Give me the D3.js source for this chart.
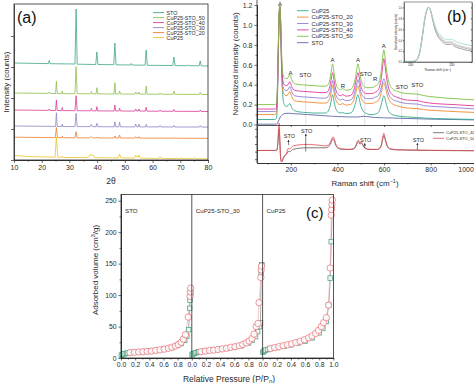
<!DOCTYPE html>
<html><head><meta charset="utf-8">
<script src="https://cdn.jsdelivr.net/npm/d3@7"></script>
<style>body{margin:0;background:#fff}svg{display:block}</style>
</head><body>
<svg width="474" height="383"></svg>
<script>
const FONT = '"Liberation Sans", Arial, sans-serif';
// ================= DATA =================
// (a) XRD patterns [2theta, stacked intensity]
const xrdNames = ["STO","CuP25-STO_50","CuP25-STO_40","CuP25-STO_30","CuP25-STO_20","CuP25"];
const xrdColors = ["#3fa58a","#8fbe4c","#dc3a95","#8c84c8","#ec7e2e","#ecc22a"];
const xrdSTO = [[10,97],[20,96.5],[22.4,96.4],[22.7,99.5],[23,96.3],[32,96],[32.4,151],[32.8,95.8],[39.5,95.5],[39.9,108],[40.3,95.5],[46,95.3],[46.4,117],[46.8,95.2],[52,95],[52.3,96.5],[52.6,95],[57.3,94.8],[57.7,110],[58.1,94.7],[67.3,94.5],[67.7,103],[68.1,94.4],[72.2,94.3],[72.5,95],[72.8,94.3],[76.8,94.2],[77.2,99],[77.6,94.1],[80,94]];
const xrd50 = [[10,67],[22.4,66.6],[22.7,68],[23,66.6],[25,66.5],[25.3,78.7],[25.6,66.5],[27.2,66.4],[27.4,69],[27.6,66.4],[32,66.3],[32.4,93.3],[32.8,66.3],[37.6,66.2],[37.9,68.5],[38.2,66.2],[39.6,66.1],[39.9,72.3],[40.2,66.1],[46.1,66],[46.4,77.3],[46.7,66],[47.8,66],[48.1,69],[48.4,66],[53.6,65.9],[53.9,68],[54.3,66],[54.8,66],[55.1,68],[55.4,65.9],[57.4,65.9],[57.7,74],[58,65.8],[62.4,65.8],[62.7,67],[63,65.8],[67.4,65.7],[67.7,69],[68,65.7],[76.9,65.6],[77.2,67.7],[77.5,65.6],[80,65.5]];
const xrd40 = [[10,50],[22.4,49.6],[22.7,51],[23,49.6],[25,49.5],[25.3,60],[25.6,49.5],[27.2,49.4],[27.4,52.5],[27.6,49.4],[32,49.3],[32.4,64.3],[32.8,49.3],[37.6,49.2],[37.9,51.5],[38.2,49.2],[39.6,49.1],[39.9,53.3],[40.2,49.1],[46.1,49],[46.4,55],[46.7,49],[47.8,49],[48.1,51.7],[48.4,49],[53.6,48.9],[53.9,51],[54.3,49],[54.8,49],[55.1,51],[55.4,48.9],[57.4,48.9],[57.7,52.7],[58,48.8],[62.4,48.8],[62.7,50],[63,48.8],[67.4,48.7],[67.7,50.5],[68,48.7],[76.9,48.6],[77.2,50],[77.5,48.6],[80,48.5]];
const xrd30 = [[10,34],[25,33.6],[25.3,47.3],[25.6,33.6],[27.2,33.5],[27.4,36],[27.6,33.5],[32,33.4],[32.4,46.7],[32.8,33.4],[37.5,33.4],[37.9,35.7],[38.3,33.4],[39.6,33.3],[39.9,36.7],[40.2,33.3],[46.1,33.2],[46.4,38.3],[46.7,33.2],[47.8,33.2],[48.1,38],[48.4,33.2],[53.6,33.1],[53.9,36],[54.3,33.2],[54.8,33.2],[55.1,36],[55.4,33.1],[57.4,33.1],[57.7,35.7],[58,33.1],[62.4,33.1],[62.7,34.5],[63,33.1],[67.4,33],[67.7,34.5],[68,33],[76.9,33],[77.2,34.3],[77.5,33],[80,33]];
const xrd20 = [[10,22.8],[24.9,22.4],[25.3,32.5],[25.7,22.4],[27.2,22.3],[27.4,24],[27.7,22.3],[32,22.2],[32.4,28.3],[32.8,22.2],[37.4,22.2],[37.9,23.5],[38.4,22.2],[39.6,22.1],[39.9,23],[40.2,22.1],[46.1,22],[46.4,24],[46.7,22],[47.8,22],[48.1,25],[48.4,22],[53.6,21.9],[53.9,23.3],[54.3,22],[54.8,22],[55.1,23.3],[55.4,21.9],[62.4,21.8],[62.7,22.5],[63,21.8],[67.4,21.8],[67.7,22.3],[68,21.8],[74.7,21.7],[75,22],[75.3,21.7],[80,21.7]];
const xrdCuP25 = [[10,4.5],[15,3.5],[24.8,2.8],[25.3,23],[25.8,2.8],[27.1,2.6],[27.4,4],[27.7,2.6],[36.5,2.4],[36.9,4],[37.3,3.8],[37.8,6],[38.3,4.8],[38.6,5],[39,2.4],[47.6,2],[48.1,6],[48.6,2],[53.5,1.9],[53.9,5],[54.4,3],[54.8,3],[55.1,5],[55.5,1.9],[62.3,1.6],[62.7,3.3],[63.1,1.6],[68.5,1.4],[68.8,2.4],[69.1,1.4],[70,1.4],[70.3,2.4],[70.6,1.4],[74.5,1.3],[75,2.5],[75.5,1.3],[80,1]];
const xrdTicks = [10,20,30,40,50,60,70,80];

// (b) Raman spectra
const ramanNames = ["CuP25","CuP25-STO_20","CuP25-STO_30","CuP25-STO_40","CuP25-STO_50","STO"];
const ramanColors = ["#35a890","#f0892d","#8b80d2","#e0359a","#7cbf42","#5b68a8"];
const ramanX = [55,130,138,142,146,150,153,156,160,165,172,180,188,196,204,215,240,270,300,330,350,
 360,370,375,379,383,390,400, 412,423,435, 455,468,478,484,488,492,500,510, 525,540, 555,562,570,
 580,590,595,599,603,610,620,635, 660,700,743,770,820,900,1000,1050];
const ramanCuP25 = [0.05,0.05,0.06,0.20,0.65,1.08,1.17,1.00,0.60,0.30,0.20,0.18,0.19,0.21,0.17,0.14,0.125,0.12,0.115,0.115,0.115,
 0.135,0.20,0.26,0.30,0.26,0.18,0.13, 0.115,0.12,0.11, 0.115,0.145,0.22,0.28,0.30,0.27,0.19,0.135, 0.11,0.10, 0.10,0.105,0.11,
 0.14,0.22,0.27,0.29,0.27,0.20,0.13,0.10, 0.085,0.075,0.07,0.065,0.06,0.055,0.05,0.045];
const raman20 = [0.10,0.10,0.11,0.25,0.68,1.09,1.18,1.04,0.63,0.35,0.30,0.29,0.30,0.33,0.28,0.24,0.23,0.225,0.22,0.215,0.215,
 0.23,0.29,0.35,0.39,0.35,0.27,0.215, 0.20,0.21,0.195, 0.20,0.235,0.31,0.37,0.39,0.36,0.28,0.23, 0.21,0.21, 0.215,0.225,0.23,
 0.26,0.34,0.40,0.42,0.40,0.33,0.25,0.21, 0.185,0.165,0.16,0.15,0.14,0.13,0.12,0.115];
const raman30 = [0.13,0.13,0.14,0.28,0.70,1.10,1.19,1.05,0.67,0.40,0.35,0.34,0.35,0.38,0.33,0.29,0.28,0.275,0.27,0.265,0.265,
 0.28,0.34,0.40,0.44,0.40,0.32,0.265, 0.245,0.255,0.24, 0.245,0.28,0.36,0.42,0.45,0.42,0.33,0.28, 0.26,0.26, 0.265,0.275,0.28,
 0.31,0.39,0.44,0.46,0.44,0.38,0.30,0.255, 0.23,0.21,0.205,0.19,0.18,0.17,0.155,0.15];
const raman40 = [0.155,0.155,0.165,0.30,0.72,1.10,1.19,1.06,0.70,0.45,0.40,0.39,0.40,0.43,0.38,0.345,0.335,0.33,0.325,0.32,0.32,
 0.335,0.41,0.48,0.52,0.48,0.38,0.31, 0.29,0.30,0.285, 0.29,0.33,0.42,0.49,0.52,0.49,0.39,0.33, 0.31,0.31, 0.315,0.325,0.335,
 0.375,0.50,0.61,0.66,0.61,0.48,0.36,0.30, 0.27,0.245,0.24,0.225,0.21,0.20,0.185,0.18];
const raman50 = [0.20,0.20,0.21,0.35,0.75,1.12,1.20,1.08,0.75,0.52,0.47,0.46,0.47,0.50,0.45,0.41,0.40,0.395,0.39,0.385,0.385,
 0.40,0.48,0.56,0.61,0.56,0.45,0.37, 0.35,0.36,0.345, 0.35,0.39,0.48,0.57,0.61,0.57,0.46,0.39, 0.37,0.37, 0.375,0.385,0.395,
 0.44,0.58,0.70,0.75,0.70,0.56,0.43,0.36, 0.33,0.31,0.305,0.29,0.275,0.26,0.245,0.24];
const ramanSTO = [0.003,0.003,0.004,0.01,0.03,0.05,0.065,0.08,0.09,0.10,0.108,0.112,0.113,0.112,0.11,0.108,0.105,0.10,0.095,0.09,0.087,
 0.085,0.084,0.083,0.083,0.082,0.081,0.08, 0.079,0.078,0.077, 0.076,0.075,0.075,0.075,0.076,0.077,0.079,0.082, 0.08,0.076, 0.072,0.071,0.07,
 0.069,0.068,0.068,0.067,0.067,0.066,0.066,0.065, 0.063,0.06,0.058,0.056,0.053,0.05,0.046,0.045];
const ramanYTicks = [0,0.2,0.4,0.6,0.8,1.0,1.2];
const ramanXTicks = [200,400,600,800,1000];
// (b) difference spectra (lower strip)
const diffNames = ["CuP25-STO_40","CuP25-STO_50"];
const diffColors = ["#5a5a5a","#e8474f"];
const diffX = [55,130,140,145,148,150,152,155,158,162,168,175,182,188,195,210,240,270,300,330,350,360,370,377,381,386,393,405,420,450,470,480,486,490,496,503,510,520,540,570,585,592,599,606,615,630,660,743,800,900,1050];
const diff40 = [-0.17,-0.17,-0.16,0.05,0.35,0.4,0.2,-0.25,-0.45,-0.46,-0.38,-0.3,-0.27,-0.2,-0.2,-0.14,-0.11,-0.1,-0.1,-0.1,-0.1,-0.08,0.0,0.1,0.14,0.09,-0.04,-0.12,-0.14,-0.145,-0.13,-0.05,0.04,0.06,0.0,0.02,-0.05,-0.12,-0.145,-0.145,-0.09,0.06,0.22,0.08,-0.08,-0.14,-0.155,-0.165,-0.17,-0.175,-0.18];
const diff50 = [-0.17,-0.17,-0.16,0.1,0.45,0.55,0.3,-0.2,-0.45,-0.47,-0.35,-0.3,-0.24,-0.12,-0.13,-0.05,-0.02,-0.01,-0.02,-0.04,-0.05,-0.03,0.05,0.15,0.19,0.14,0.0,-0.1,-0.13,-0.14,-0.12,-0.02,0.08,0.1,0.03,0.05,-0.03,-0.11,-0.14,-0.14,-0.08,0.1,0.28,0.12,-0.06,-0.13,-0.15,-0.16,-0.165,-0.17,-0.18];
// (b) inset
const insetX = [85,105,112,118,124,130,135,140,144,148,152,158,165,172,180,188,195,200,205,212,225,240,250];
const insetA = [0.01,0.01,0.02,0.06,0.2,0.48,0.75,0.93,1.0,0.97,0.86,0.66,0.5,0.42,0.36,0.32,0.32,0.33,0.3,0.27,0.24,0.21,0.2];
const insetB = [0.01,0.01,0.02,0.06,0.21,0.5,0.77,0.94,1.0,0.97,0.87,0.68,0.53,0.45,0.39,0.35,0.35,0.36,0.33,0.3,0.27,0.24,0.23];
const insetC = [0.01,0.01,0.02,0.07,0.22,0.51,0.78,0.95,1.0,0.98,0.88,0.7,0.55,0.47,0.41,0.37,0.37,0.38,0.35,0.32,0.29,0.26,0.25];
const insetD = [0.01,0.01,0.02,0.07,0.22,0.52,0.79,0.95,1.0,0.98,0.89,0.72,0.58,0.5,0.45,0.41,0.41,0.42,0.4,0.37,0.34,0.31,0.3];
const insetColors = ["#8e8e8e","#a8a8a8","#c4c4c4","#9fd6cf"];
// (c) N2 isotherms [P/P0, volume]
const isoNames = ["STO","CuP25-STO_30","CuP25"];
const stoAds = [[0.005,4.5],[0.02,5.5],[0.04,6.5],[0.06,7],[0.08,7.5],[0.1,8],[0.2,9],[0.3,10],[0.4,11],[0.5,12.5],[0.6,14],[0.7,16.5],[0.8,20],[0.85,23],[0.9,28],[0.93,35],[0.955,45],[0.97,79],[0.975,92],[0.985,104]];
const stoDes = [[0.13,8.5],[0.19,9],[0.25,9.5],[0.31,10],[0.37,10.5],[0.43,11],[0.49,12],[0.55,13],[0.61,14],[0.67,15.5],[0.72,17],[0.77,19],[0.81,21.5],[0.85,25],[0.88,30],[0.91,37],[0.95,65],[0.975,98],[0.98,105],[0.985,111]];
const cp30Ads = [[0.005,5],[0.02,6.5],[0.04,7.5],[0.06,8.5],[0.08,9],[0.1,10],[0.2,11.5],[0.3,12.5],[0.4,14],[0.5,15.5],[0.6,17],[0.7,19.5],[0.8,24],[0.85,28],[0.9,34],[0.93,42],[0.955,50],[0.97,56],[0.98,135],[0.99,148]];
const cp30Des = [[0.13,10],[0.19,11],[0.25,12],[0.31,12.5],[0.37,13.5],[0.43,14.5],[0.49,15.5],[0.55,17],[0.61,18],[0.67,19.5],[0.72,21.5],[0.77,24],[0.81,27],[0.85,31],[0.88,38],[0.91,50],[0.935,55],[0.95,88],[0.975,128],[0.98,140],[0.985,146]];
const cp25Ads = [[0.005,9],[0.02,11],[0.04,12.5],[0.07,13.5],[0.1,14.5],[0.2,16.5],[0.3,18.5],[0.4,21],[0.5,24],[0.6,27],[0.7,32],[0.8,40],[0.85,47],[0.9,58],[0.935,84],[0.955,127],[0.97,185],[0.985,240]];
const cp25Des = [[0.11,15],[0.17,16.5],[0.23,18],[0.29,19.5],[0.35,21],[0.41,22.5],[0.47,24.5],[0.53,26.5],[0.59,29],[0.65,32],[0.7,35],[0.75,39],[0.79,44],[0.83,50],[0.86,56],[0.9,64],[0.93,84],[0.955,143],[0.97,227],[0.975,236],[0.98,244],[0.985,251]];
const isoYTicks = [0,50,100,150,200,250];

// ================= DRAW =================
const svg = d3.select("svg").attr("font-family", FONT);
const INK = "#2a2a2a";
function axStyle(g, fs){
  g.select(".domain").attr("stroke",INK).attr("stroke-width",0.8);
  g.selectAll(".tick line").attr("stroke",INK).attr("stroke-width",0.7);
  g.selectAll(".tick text").attr("font-size",fs||7).attr("font-family",FONT).attr("fill",INK);
}
const defs = svg.append("defs");
function clip(id,x,y,w,h){defs.append("clipPath").attr("id",id).append("rect").attr("x",x).attr("y",y).attr("width",w).attr("height",h);}

// ---------- (a) ----------
const xA = d3.scaleLinear().domain([10,80]).range([14,208]);
const yA = d3.scaleLinear().domain([0,156]).range([160,4]);
clip("cA",14,4,194,156);
const gA = svg.append("g");
const xrdData = [xrdSTO,xrd50,xrd40,xrd30,xrd20,xrdCuP25];
const lineA = d3.line().x(d=>xA(d[0])).y(d=>yA(d[1]));
for (let k = xrdData.length-1; k >= 0; k--) {
  gA.append("path").attr("d",lineA(xrdData[k])).attr("fill","none").attr("stroke",xrdColors[k]).attr("stroke-width",0.8).attr("clip-path","url(#cA)");
}
gA.append("rect").attr("x",14).attr("y",4).attr("width",194).attr("height",156).attr("fill","none").attr("stroke",INK).attr("stroke-width",0.8);
axStyle(gA.append("g").attr("transform","translate(0,160)").call(d3.axisBottom(xA).tickValues(xrdTicks).tickSize(3).tickSizeOuter(0).tickPadding(2).tickFormat(d3.format("d"))));
axStyle(gA.append("g").attr("transform","translate(0,160)").call(d3.axisBottom(xA).tickValues(d3.range(15,80,10)).tickSize(1.6).tickSizeOuter(0).tickFormat("")));
axStyle(gA.append("g").attr("transform","translate(14,0)").call(d3.axisLeft(yA).tickValues([0,31,62,93,124]).tickSize(3).tickSizeOuter(0).tickFormat("")));
gA.append("text").attr("x",111).attr("y",184).attr("text-anchor","middle").attr("font-size",8.5).attr("fill",INK).text("2θ");
gA.append("text").attr("transform","translate(8.5,82) rotate(-90)").attr("text-anchor","middle").attr("font-size",8).attr("fill",INK).text("Intensity (counts)");
gA.append("text").attr("x",17).attr("y",22.5).attr("font-size",16).attr("fill","#111").text("(a)");
xrdNames.forEach((n,i)=>{
  const y = 12.6+5*i;
  gA.append("line").attr("x1",153).attr("x2",164).attr("y1",y).attr("y2",y).attr("stroke",xrdColors[i]).attr("stroke-width",0.9);
  gA.append("text").attr("x",166.5).attr("y",y+1.9).attr("font-size",5.4).attr("fill",INK).text(n);
});

// ---------- (b) ----------
const xB = d3.scaleLinear().domain([55,1050]).range([257,489]);
const yU = d3.scaleLinear().domain([0,1.2]).range([124.5,5]);
const yL = d3.scaleLinear().domain([-0.5,0.5]).range([163,125]);
clip("cBU",257,-2,217,127);
clip("cBL",257,118,217,45);
const gB = svg.append("g");
const ramanData = [ramanCuP25,raman20,raman30,raman40,raman50,ramanSTO];
const lineU = d3.line().x(d=>xB(d[0])).y(d=>yU(d[1])).curve(d3.curveMonotoneX);
// STO dashed markers [raman, top intensity]
const stoMarks = [[264,0.47],[517,0.47],[676,0.34],[743,0.34]];
stoMarks.forEach(m=>{
  gB.append("line").attr("x1",xB(m[0])).attr("x2",xB(m[0])).attr("y1",yU(m[1])).attr("y2",yU(0)).attr("stroke","#999").attr("stroke-width",0.6).attr("stroke-dasharray","1,1");
});
[5,0,1,2,3,4].forEach(k=>{
  const pts = ramanX.map((x,i)=>[x,ramanData[k][i]]);
  gB.append("path").attr("d",lineU(pts)).attr("fill","none").attr("stroke",ramanColors[k]).attr("stroke-width",0.9).attr("clip-path","url(#cBU)");
});
const lineL = d3.line().x(d=>xB(d[0])).y(d=>yL(d[1])).curve(d3.curveMonotoneX);
[diff40,diff50].forEach((arr,k)=>{
  const pts = diffX.map((x,i)=>[x,arr[i]]);
  gB.append("path").attr("d",lineL(pts)).attr("fill","none").attr("stroke",diffColors[k]).attr("stroke-width",0.8).attr("clip-path","url(#cBL)");
});
// axes
axStyle(gB.append("g").attr("transform","translate(257,0)").call(d3.axisLeft(yU).tickValues(ramanYTicks).tickSize(2.5).tickSizeOuter(0).tickPadding(2).tickFormat(d3.format(".1f"))));
axStyle(gB.append("g").attr("transform","translate(257,0)").call(d3.axisLeft(yU).tickValues([0.1,0.3,0.5,0.7,0.9,1.1]).tickSize(1.5).tickSizeOuter(0).tickFormat("")));
gB.append("line").attr("x1",257).attr("x2",257).attr("y1",0).attr("y2",163).attr("stroke",INK).attr("stroke-width",0.8);
axStyle(gB.append("g").attr("transform","translate(257,0)").call(d3.axisLeft(yL).tickValues([-0.4,-0.2,0,0.2,0.4]).tickSize(2).tickSizeOuter(0).tickFormat("")));
axStyle(gB.append("g").attr("transform","translate(0,125)").call(d3.axisBottom(xB).tickValues(ramanXTicks).tickSize(2).tickSizeOuter(0).tickFormat("")));
const bb = gB.append("g").attr("transform","translate(0,163)").call(d3.axisBottom(xB).tickValues(ramanXTicks).tickSize(2.5).tickSizeOuter(0).tickPadding(2).tickFormat(d3.format("d")));
axStyle(bb);
bb.selectAll(".tick").filter(d=>d===1000).select("text").attr("text-anchor","end").attr("x",-4);
axStyle(gB.append("g").attr("transform","translate(0,163)").call(d3.axisBottom(xB).tickValues([100,300,500,700,900]).tickSize(1.5).tickSizeOuter(0).tickFormat("")));
const xl = gB.append("text").attr("x",365).attr("y",186).attr("text-anchor","middle").attr("font-size",8).attr("fill",INK);
xl.append("tspan").text("Raman shift (cm");
xl.append("tspan").attr("dy",-3).attr("font-size",5.5).text("−1");
xl.append("tspan").attr("dy",3).text(")");
gB.append("text").attr("transform","translate(238,64) rotate(-90)").attr("text-anchor","middle").attr("font-size",8).attr("fill",INK).text("Normalized intensity (counts)");
// peak annotations [raman, intensity, label]
const annot = [[154,1.187,"A"],[199,0.502,"A"],[262,0.482,"STO"],[379,0.628,"A"],[424,0.362,"R"],[488,0.628,"A"],[522,0.49,"STO"],[562,0.44,"R"],[599,0.77,"A"],[676,0.36,"STO"],[743,0.375,"STO"]];
annot.forEach(a=>{
  gB.append("text").attr("x",xB(a[0])).attr("y",yU(a[1])).attr("text-anchor","middle").attr("font-size",6).attr("fill",INK).text(a[2]);
});
// lower strip arrows [raman, from, to, label level]
defs.append("marker").attr("id","arr").attr("viewBox","0 0 6 6").attr("refX",5).attr("refY",3).attr("markerWidth",4).attr("markerHeight",4).attr("orient","auto")
  .append("path").attr("d","M0,0L6,3L0,6z").attr("fill",INK);
const arrows = [[190,-0.03,0.1,0.16],[264,-0.2,0.26,0.29],[517,-0.113,0.013,0.065],[743,-0.158,0.018,0.065]];
arrows.forEach(a=>{
  gB.append("line").attr("x1",xB(a[0])).attr("x2",xB(a[0])).attr("y1",yL(a[1])).attr("y2",yL(a[2])).attr("stroke",INK).attr("stroke-width",0.6).attr("marker-end","url(#arr)");
  gB.append("text").attr("x",xB(a[0])+1).attr("y",yL(a[3])).attr("text-anchor","middle").attr("font-size",5.5).attr("fill",INK).text("STO");
});
diffNames.forEach((n,i)=>{
  const y = 132.7+5.6*i;
  gB.append("line").attr("x1",433).attr("x2",444).attr("y1",y).attr("y2",y).attr("stroke",diffColors[i]).attr("stroke-width",0.8);
  gB.append("text").attr("x",446).attr("y",y+1.4).attr("font-size",4).attr("fill",INK).text(n);
});
ramanNames.forEach((n,i)=>{
  const y = 10.7+6.4*i;
  gB.append("line").attr("x1",297).attr("x2",308.5).attr("y1",y).attr("y2",y).attr("stroke",ramanColors[i]).attr("stroke-width",0.9);
  gB.append("text").attr("x",311.5).attr("y",y+2).attr("font-size",5.8).attr("fill",INK).text(n);
});
// inset
const gI = svg.append("g");
gI.append("rect").attr("x",390).attr("y",0).attr("width",84).attr("height",74).attr("fill","#fff");
const xI = d3.scaleLinear().domain([85,250]).range([404,472]);
const yI = d3.scaleLinear().domain([0,1.1]).range([62,2]);
clip("cI",404,2,68,60);
const lineI = d3.line().x(d=>xI(d[0])).y(d=>yI(d[1])).curve(d3.curveMonotoneX);
[insetA,insetB,insetC,insetD].forEach((arr,k)=>{
  gI.append("path").attr("d",lineI(insetX.map((x,i)=>[x,arr[i]]))).attr("fill","none").attr("stroke",insetColors[k]).attr("stroke-width",0.8).attr("clip-path","url(#cI)");
});
gI.append("rect").attr("x",404).attr("y",2).attr("width",68).attr("height",60).attr("fill","none").attr("stroke",INK).attr("stroke-width",0.5);
const ia = gI.append("g").attr("transform","translate(0,62)").call(d3.axisBottom(xI).tickValues([100,200]).tickSize(1.2).tickSizeOuter(0).tickPadding(1));
axStyle(ia,3.2); ia.select(".domain").attr("stroke-width",0.5);
const iy = gI.append("g").attr("transform","translate(404,0)").call(d3.axisLeft(yI).tickValues([0,0.2,0.4,0.6,0.8,1.0]).tickSize(1.2).tickSizeOuter(0).tickPadding(0.8).tickFormat(d3.format(".1f")));
axStyle(iy,2.6); iy.select(".domain").attr("stroke-width",0.5);
const iyr = gI.append("g").attr("transform","translate(472,0)").call(d3.axisRight(yI).tickValues([0,0.2,0.4,0.6,0.8,1.0]).tickSize(-1.2).tickSizeOuter(0).tickFormat(""));
axStyle(iyr); iyr.select(".domain").attr("stroke-width",0.5);
gI.append("text").attr("x",438).attr("y",71).attr("text-anchor","middle").attr("font-size",3.2).attr("fill",INK).text("Raman shift (cm⁻¹)");
gI.append("text").attr("transform","translate(397,32) rotate(-90)").attr("text-anchor","middle").attr("font-size",2.8).attr("fill",INK).text("Normalized intensity (counts)");
svg.append("text").attr("x",447).attr("y",21.5).attr("font-size",16).attr("fill","#111").text("(b)");

// ---------- (c) ----------
const cEdges = [121,191.8,262.6,333.4];
const yC = d3.scaleLinear().domain([0,260]).range([358,194.4]);
const gC = svg.append("g");
const isoSets = [[stoAds,stoDes],[cp30Ads,cp30Des],[cp25Ads,cp25Des]];
isoSets.forEach((set,s)=>{
  const xs = d3.scaleLinear().domain([0,1]).range([cEdges[s],cEdges[s+1]]);
  const ln = d3.line().x(d=>xs(d[0])).y(d=>yC(d[1]));
  gC.append("path").attr("d",ln(set[0])).attr("fill","none").attr("stroke","#777").attr("stroke-width",0.6);
  gC.append("path").attr("d",ln(set[1])).attr("fill","none").attr("stroke","#f2a0a4").attr("stroke-width",0.6);
  gC.selectAll(null).data(set[0]).enter().append("rect")
    .attr("x",d=>xs(d[0])-2.3).attr("y",d=>yC(d[1])-2.3).attr("width",4.6).attr("height",4.6)
    .attr("fill","#eef6f2").attr("stroke","#45a07e").attr("stroke-width",0.7);
  gC.selectAll(null).data(set[1]).enter().append("circle")
    .attr("cx",d=>xs(d[0])).attr("cy",d=>yC(d[1])).attr("r",3.2)
    .attr("fill","#fff").attr("fill-opacity",0.85).attr("stroke","#ea6a72").attr("stroke-width",0.7);
  const tv = s===2 ? [0,0.2,0.4,0.6,0.8,1.0] : [0,0.2,0.4,0.6,0.8];
  axStyle(gC.append("g").attr("transform","translate(0,358)").call(d3.axisBottom(xs).tickValues(tv).tickSize(2.5).tickSizeOuter(0).tickPadding(2).tickFormat(d3.format(".1f"))), 6.8);
  axStyle(gC.append("g").attr("transform","translate(0,358)").call(d3.axisBottom(xs).tickValues([0.1,0.3,0.5,0.7,0.9]).tickSize(1.5).tickSizeOuter(0).tickFormat("")));
  gC.append("text").attr("x",cEdges[s]+4).attr("y",213).attr("font-size",6.2).attr("fill",INK).text(isoNames[s]);
});
gC.append("rect").attr("x",121).attr("y",194.4).attr("width",212.4).attr("height",163.6).attr("fill","none").attr("stroke",INK).attr("stroke-width",0.8);
[1,2].forEach(i=>gC.append("line").attr("x1",cEdges[i]).attr("x2",cEdges[i]).attr("y1",194.4).attr("y2",358).attr("stroke",INK).attr("stroke-width",0.8));
axStyle(gC.append("g").attr("transform","translate(121,0)").call(d3.axisLeft(yC).tickValues(isoYTicks).tickSize(2.5).tickSizeOuter(0).tickPadding(2)), 6.8);
axStyle(gC.append("g").attr("transform","translate(121,0)").call(d3.axisLeft(yC).tickValues([25,75,125,175,225]).tickSize(1.5).tickSizeOuter(0).tickFormat("")));
const cx = gC.append("text").attr("x",229).attr("y",381.5).attr("text-anchor","middle").attr("font-size",8.5).attr("fill",INK);
cx.append("tspan").text("Relative Pressure (P/P");
cx.append("tspan").attr("dy",2).attr("font-size",6).text("0");
cx.append("tspan").attr("dy",-2).text(")");
const cy = gC.append("text").attr("transform","translate(98,270) rotate(-90)").attr("text-anchor","middle").attr("font-size",8).attr("fill",INK);
cy.append("tspan").text("Adsorbed volume (cm");
cy.append("tspan").attr("dy",-3).attr("font-size",5.5).text("3");
cy.append("tspan").attr("dy",3).text("/g)");
gC.append("text").attr("x",306).attr("y",218).attr("font-size",15).attr("fill","#111").text("(c)");
</script>
</body></html>
